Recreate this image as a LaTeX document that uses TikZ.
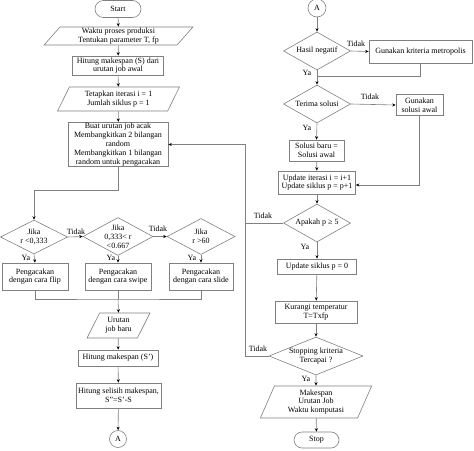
\documentclass[tikz,border=0pt]{standalone}
\usepackage{fontspec}
\setmainfont{Liberation Serif}
\usetikzlibrary{shapes.geometric,shapes.misc,arrows.meta,calc}
\begin{document}
\begin{tikzpicture}[x=1pt,y=-1pt,
  every node/.style={font=\fontsize{8}{8.8}\selectfont, inner sep=1pt, align=center, text=black},
  ln/.style={draw=black!50, line width=0.6pt},
  arr/.style={ln, -{Stealth[length=3.5pt,width=3pt,color=black]}},
  box/.style={rectangle, draw=black!50, line width=0.6pt},
  io/.style={trapezium, trapezium stretches=true, trapezium left angle=#1, trapezium right angle=180-#1, draw=black!50, line width=0.6pt},
  dec/.style={diamond, draw=black!50, line width=0.6pt, inner sep=0pt},
  term/.style={rounded rectangle, draw=black!50, line width=0.6pt},
  conn/.style={circle, draw=black!50, line width=0.6pt, minimum size=#1, inner sep=0pt},
  lbl/.style={inner sep=0pt}
]
\useasboundingbox (0,0) rectangle (474,450);
% left column
\node[term, minimum width=48pt, minimum height=17pt] (start) at (118,9) {Start};
\node[io=58, minimum width=149pt, minimum height=18pt] (waktu) at (118.5,36) {Waktu proses produksi\\Tentukan parameter T, fp};
\node[box, minimum width=91pt, minimum height=19pt] (hit1) at (118,65.5) {Hitung makespan (S) dari\\urutan job awal};
\node[io=65, minimum width=123pt, minimum height=24pt] (tetap) at (118.5,99) {Tetapkan iterasi i = 1\\Jumlah siklus p = 1};
\node[box, minimum width=100pt, minimum height=43pt] (buat) at (118,144.5) {Buat urutan job acak\\Membangkitkan 2 bilangan\\random\\Membangkitkan 1 bilangan\\random untuk pengacakan};
\node[dec, minimum width=67pt, minimum height=34pt, label={[align=center]center:Jika\\r <0,333}] (d1) at (34,237) {};
\node[dec, minimum width=70pt, minimum height=38pt, label={[align=center]center:Jika\\0,333< r\\<0.667}] (d2) at (118,236.5) {};
\node[dec, minimum width=68pt, minimum height=36pt, label={[align=center]center:Jika\\r >60}] (d3) at (201,236.5) {};
\node[box, minimum width=66pt, minimum height=27pt] (b1) at (35,276.5) {Pengacakan\\dengan cara flip};
\node[box, minimum width=66pt, minimum height=27pt] (b2) at (118,276.5) {Pengacakan\\dengan cara swipe};
\node[box, minimum width=64pt, minimum height=27pt] (b3) at (201,276.5) {Pengacakan\\dengan cara slide};
\node[io=62, minimum width=63pt, minimum height=25pt] (urut) at (118.5,325.5) {Urutan\\job baru};
\node[box, minimum width=80pt, minimum height=16pt] (hit2) at (118,358) {Hitung makespan (S’)};
\node[box, minimum width=85pt, minimum height=25pt] (sel) at (118.5,395.5) {Hitung selisih makespan,\\S”=S’-S};
\node[conn=17pt] (A1) at (118,439) {A};
% right column
\node[conn=18pt] (A2) at (317,8) {A};
\node[dec, minimum width=67pt, minimum height=38pt, label={center:Hasil negatif}] (hasil) at (317,51) {};
\node[box, minimum width=103pt, minimum height=23pt] (metro) at (420.5,51.5) {Gunakan kriteria metropolis};
\node[dec, minimum width=67pt, minimum height=38pt, label={center:Terima solusi}] (terima) at (317,104) {};
\node[box, minimum width=47pt, minimum height=21pt] (awal) at (419.5,105) {Gunakan\\solusi awal};
\node[box, minimum width=55pt, minimum height=21pt] (baru) at (316.5,150.5) {Solusi baru =\\Solusi awal};
\node[box, minimum width=77pt, minimum height=23pt] (upd) at (317,182.5) {Update iterasi i = i+1\\Update siklus p = p+1};
\node[dec, minimum width=67pt, minimum height=38pt, label={center:Apakah p ≥ 5}] (apakah) at (317,223) {};
\node[box, minimum width=79pt, minimum height=15pt] (upd0) at (317,266.5) {Update siklus p = 0};
\node[box, minimum width=82pt, minimum height=22pt] (kur) at (316,312) {Kurangi temperatur\\T=Txfp};
\node[dec, minimum width=94pt, minimum height=38pt, label={[align=center]center:Stopping kriteria\\Tercapai ?}] (stopq) at (316,356) {};
\node[io=70, minimum width=112pt, minimum height=32pt] (out) at (316,402) {Makespan\\Urutan Job\\Waktu komputasi};
\node[term, minimum width=47pt, minimum height=16pt] (stop) at (316.5,440) {Stop};
% labels
\node[lbl] (t1) at (76,232) {Tidak};
\node[lbl] (t2) at (158,229) {Tidak};
\node[lbl] (y1) at (26,258) {Ya};
\node[lbl] (y2) at (111,258) {Ya};
\node[lbl] (y3) at (192,258) {Ya};
\node[lbl] (t3) at (356,44) {Tidak};
\node[lbl] (y4) at (307,73) {Ya};
\node[lbl] (t4) at (370,97) {Tidak};
\node[lbl] (y5) at (307,128) {Ya};
\node[lbl] (t5) at (263,216) {Tidak};
\node[lbl] (y6) at (305,247) {Ya};
\node[lbl] (t6) at (258,349) {Tidak};
\node[lbl] (y7) at (306,379) {Ya};
% coordinates
\coordinate (m1) at (118,190);
\coordinate (m2) at (118,299);
\coordinate (jn) at (317,76);
\coordinate (ret) at (245,144.5);
\coordinate (aw) at (419.5,185);
% left connectors
\draw[arr] (start) -- (waktu);
\draw[arr] (waktu) -- (hit1);
\draw[arr] (hit1) -- (tetap);
\draw[arr] (tetap) -- (buat);
\draw[arr] (buat.south) -- (m1) -| (d1.north);
\draw[arr] (d1.east) -- (d2.west);
\draw[arr] (d2.east) -- (d3.west);
\draw[arr] (d1.south) -- (b1.north);
\draw[arr] (d2.south) -- (b2.north);
\draw[arr] (d3.south) -- (b3.north);
\draw[ln] (b1.south) |- (m2) -| (b3.south);
\draw[ln] (b2.south) -- (m2);
\draw[arr] (m2) -- (urut.north);
\draw[arr] (urut) -- (hit2);
\draw[arr] (hit2) -- (sel);
\draw[arr] (sel) -- (A1);
% right connectors
\draw[arr] (A2) -- (hasil);
\draw[arr] (hasil.east) -- (metro.west);
\draw[ln] (metro.south) |- (jn);
\draw[arr] (hasil.south) -- (terima.north);
\draw[arr] (terima.east) -- (awal.west);
\draw[arr] (terima.south) -- (baru.north);
\draw[arr] (baru) -- (upd);
\draw[arr] (awal.south) -- (aw) -- (upd.east |- aw);
\draw[arr] (upd) -- (apakah);
\draw[ln] (apakah.west) -- (apakah.west -| ret);
\draw[arr] (stopq.west) -| (ret) -- (buat.east);
\draw[arr] (apakah.south) -- (upd0.north);
\draw[arr] (upd0) -- (kur);
\draw[arr] (kur) -- (stopq);
\draw[arr] (stopq.south) -- (out.north);
\draw[arr] (out) -- (stop);
\end{tikzpicture}
\end{document}
